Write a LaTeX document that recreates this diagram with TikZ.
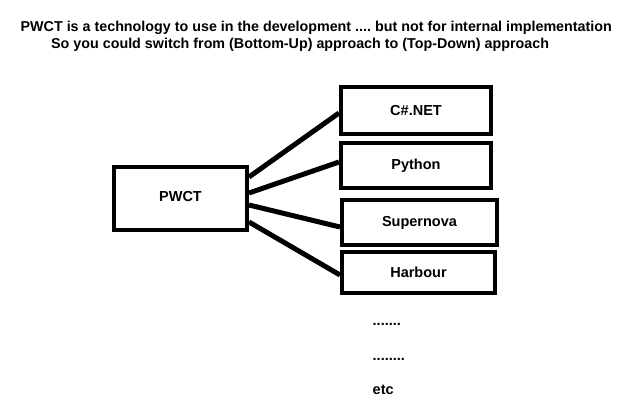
\documentclass[tikz,border=0pt]{standalone}
\usepackage{fontspec}
\setmainfont{Liberation Sans}
\frenchspacing
\begin{document}
\begin{tikzpicture}[x=1pt,y=-1pt,
  box/.style={draw=black,line width=4pt,inner sep=0pt,font=\bfseries\fontsize{14.5}{17}\selectfont},
  link/.style={line width=5pt},
  title/.style={font=\bfseries\fontsize{14.3}{17}\selectfont,inner sep=0pt,anchor=base west},
  note/.style={font=\bfseries\fontsize{14.5}{17}\selectfont,inner sep=0pt,anchor=base west}]
\useasboundingbox[fill=white] (0,0) rectangle (640,415);
\node[title] (t1) at (20.5,31) {PWCT is a technology to use in the development .... but not for internal implementation};
\node[title] (t2) at (51,48.5) {So you could switch from (Bottom-Up) approach to (Top-Down) approach};
\node[box,minimum width=133pt,minimum height=63pt] (pwct) at (180.5,198.5) {\raisebox{4pt}{PWCT}};
\node[box,minimum width=150pt,minimum height=47pt] (cs) at (416,110.5) {C\#.NET};
\node[box,minimum width=150pt,minimum height=45pt] (py) at (416,165.5) {Python};
\node[box,minimum width=155pt,minimum height=45pt] (sn) at (419.5,222.5) {Supernova};
\node[box,minimum width=153pt,minimum height=41pt] (hb) at (418.5,272.5) {Harbour};
\draw[link] ([yshift=21.5pt]pwct.east) -- ([yshift=-2.5pt]cs.west);
\draw[link] ([yshift=5.5pt]pwct.east) -- ([yshift=3.5pt]py.west);
\draw[link] ([yshift=-6.5pt]pwct.east) -- ([yshift=-4.5pt]sn.west);
\draw[link] ([yshift=-23.5pt]pwct.east) -- ([yshift=-2.5pt]hb.west);
\node[note] (d1) at (372.5,325) {.......};
\node[note] (d2) at (372.5,360) {........};
\node[note] (etc) at (372.5,394) {etc};
\end{tikzpicture}
\end{document}
